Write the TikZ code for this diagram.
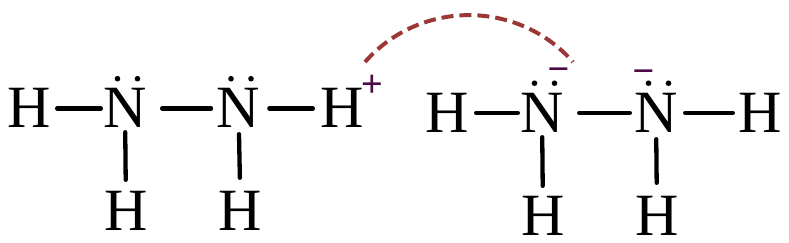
\documentclass[tikz,border=0pt]{standalone}
\usepackage{fontspec}
\setmainfont{Liberation Serif}
\newfontfamily\chargefont{Liberation Sans}
\usetikzlibrary{calc}
\definecolor{arccol}{RGB}{155,55,55}
\definecolor{chargecol}{RGB}{75,10,70}
\begin{document}
\begin{tikzpicture}[x=1pt,y=-1pt,
 atom/.style={inner sep=0pt, outer sep=0pt, anchor=base, font=\fontsize{60}{72}\selectfont},
 bond/.style={line width=4.3pt, line cap=round},
 lonepair/.style={fill=black},
 charge/.style={inner sep=0pt, anchor=base, text=chargecol, font=\fontsize{37}{40}\chargefont},
 transfer/.style={draw=arccol, line width=4pt, dash pattern=on 12pt off 6pt},
]
\useasboundingbox (0,0) rectangle (789,243);
% left molecule
\node[atom] (H1) at (29,128) {H};
\node[atom] (N1) at (125,128) {N};
\node[atom] (N2) at (238.5,128) {N};
\node[atom] (H2) at (342,128) {H};
\node[atom] (H1b) at (126,230) {H};
\node[atom] (H2b) at (240.5,230) {H};
% right molecule
\node[atom] (H3) at (447,132.5) {H};
\node[atom] (N3) at (542,132.5) {N};
\node[atom] (N4) at (656,132.5) {N};
\node[atom] (H4) at (760,132.5) {H};
\node[atom] (H3b) at (543,235) {H};
\node[atom] (H4b) at (657,235) {H};
% bonds
\draw[bond, shorten <=6.5pt, shorten >=2.5pt] (H1) -- (N1);
\draw[bond, shorten <=15.5pt, shorten >=5.8pt] (N1) -- (N2);
\draw[bond, shorten <=9.2pt, shorten >=7.5pt] (N2) -- (H2);
\draw[bond, shorten <=4.2pt, shorten >=10.9pt] (N1) -- (H1b);
\draw[bond, shorten <=6.2pt, shorten >=12.9pt] (N2) -- (H2b);
\draw[bond, shorten <=7.5pt, shorten >=2.5pt] (H3) -- (N3);
\draw[bond, shorten <=15.5pt, shorten >=4.5pt] (N3) -- (N4);
\draw[bond, shorten <=7.5pt, shorten >=5.5pt] (N4) -- (H4);
\draw[bond, shorten <=4.7pt, shorten >=9.9pt] (N3) -- (H3b);
\draw[bond, shorten <=6.7pt, shorten >=12.9pt] (N4) -- (H4b);
% lone pairs
\foreach \n in {N1,N2,N3,N4}{
  \fill[lonepair] ($(\n.north)+(-7.5,-10)$) circle (2.8pt);
  \fill[lonepair] ($(\n.north)+(12.5,-10)$) circle (2.8pt);
}
% charges
\node[charge] (plus) at (372,96.5) {+};
\node[charge] (m3) at (558.5,81.7) {−};
\node[charge] (m4) at (643.5,83.7) {−};
% proton transfer arc
\coordinate (a1) at (365,62);
\coordinate (a2) at (573,62);
\draw[transfer] (a1) .. controls +(55,-62.5) and +(-55,-62.5) .. (a2);
\end{tikzpicture}
\end{document}
